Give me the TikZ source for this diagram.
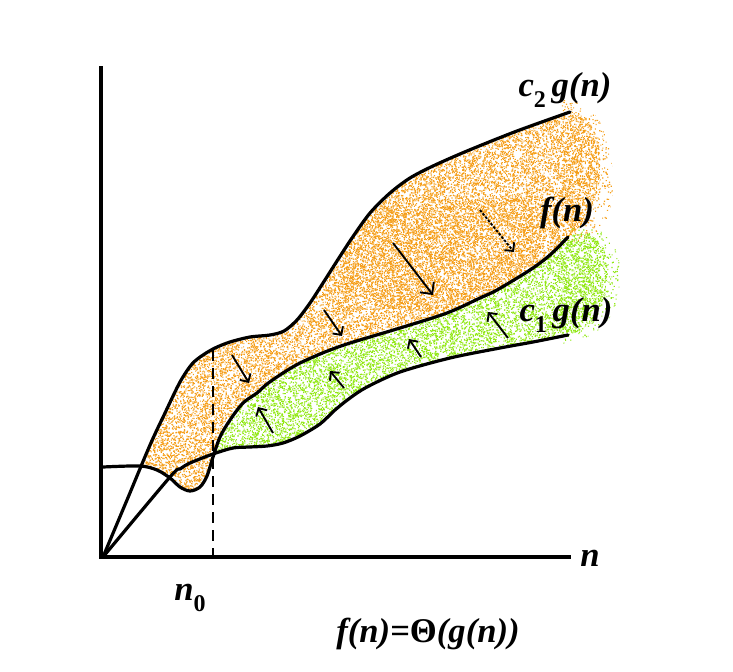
\documentclass[tikz,border=0pt]{standalone}
\usepackage{fontspec}
\setmainfont{Liberation Serif}
\usetikzlibrary{arrows.meta}
\makeatletter
\newcount\stp@cnt \newcount\stp@tot
\newdimen\stp@x \newdimen\stp@y
\def\stp@one#1#2#3#4{%
  \pgfmathrnd \stp@x=\pgfmathresult pt \stp@x=#3\stp@x \advance\stp@x by #1pt \stp@x=0.75\stp@x
  \pgfmathrnd \stp@y=\pgfmathresult pt \stp@y=#4\stp@y \advance\stp@y by #2pt \stp@y=-0.75\stp@y
  \pgfpathrectangle{\pgfqpoint{\stp@x}{\stp@y}}{\pgfqpoint{0.85pt}{0.85pt}}%
  \advance\stp@cnt by 1 \advance\stp@tot by -1
  \ifnum\stp@tot>0
    \ifnum\stp@cnt>249 \pgfusepath{fill}\stp@cnt=0 \fi
    \def\stp@next{\stp@one{#1}{#2}{#3}{#4}}%
  \else
    \pgfusepath{fill}%
    \let\stp@next\relax
  \fi
  \stp@next}
% \stipplebox{x0}{y0}{width}{height}{number of dots}, in pixel units
\newcommand{\stipplebox}[5]{\stp@cnt=0 \stp@tot=#5 \stp@one{#1}{#2}{#3}{#4}}
\makeatother
\definecolor{dotorange}{RGB}{245,158,25}
\definecolor{dotgreen}{RGB}{145,232,20}
\newcommand{\mysub}[1]{\raisebox{-0.33em}{\fontsize{18}{20}\selectfont\upshape #1}}
\tikzset{
  curve/.style={line width=2.4pt, line join=round, line cap=round},
  axisline/.style={line width=2.4pt},
  arrbig/.style={line width=1.4pt, -{Straight Barb[length=6.5pt,width=13pt]}},
  arrsmall/.style={line width=1.4pt, -{Straight Barb[length=4.6pt,width=9.4pt]}},
  lbl/.style={font=\fontsize{26}{30}\selectfont\bfseries\itshape, inner sep=0pt},
}
\begin{document}
\begin{tikzpicture}[x=0.75pt,y=-0.75pt]
\useasboundingbox (0,0) rectangle (733,672);
\pgfmathsetseed{4242}
% sparse fringes at the right ends
\begin{scope}
  \clip (560,100) .. controls (602,96) and (618,150) .. (612,200) .. controls (608,234) and (585,242) .. (560,244) -- cycle;
  \pgfsetfillcolor{dotorange}
  \stipplebox{560}{96}{60}{150}{700}
\end{scope}
\begin{scope}
  \clip (560,230) .. controls (602,218) and (622,240) .. (620,280) .. controls (618,322) and (596,340) .. (560,344) -- cycle;
  \pgfsetfillcolor{dotgreen}
  \stipplebox{560}{216}{62}{130}{600}
\end{scope}
% orange region between c2 g(n) and f(n)
\begin{scope}
  \clip plot[smooth, tension=0.5] coordinates {(140,467) (150,445) (165,413) (180,382) (192,364) (203,355) (215,348) (230,342) (250,337) (270,335) (284,331) (297,320) (310,303) (323,283) (337,261) (352,238) (370,213) (390,193) (410,178) (433,166) (467,151) (517,131) (570,112)}
  .. controls (592,112) and (602,140) .. (600,175) .. controls (598,205) and (585,225) .. (568,237)
  -- plot[smooth, tension=0.5] coordinates {(568,237) (550,255) (530,270) (497,290) (480,298) (447,313) (400,328) (350,343) (325,352) (300,363) (283,373) (267,384) (257,393) (243,403) (230,420) (220,437) (213,457) (207,476) (200,487) (190,491) (180,487) (170,478) (157,470) (140,467)}
  -- cycle;
  \pgfsetfillcolor{dotorange}
  \stipplebox{138}{358}{52}{137}{2200}
  \stipplebox{190}{334}{70}{162}{3500}
  \stipplebox{260}{266}{70}{128}{2800}
  \stipplebox{330}{168}{90}{186}{5200}
  \stipplebox{420}{136}{80}{194}{4800}
  \stipplebox{500}{108}{70}{184}{4000}
  \stipplebox{570}{108}{35}{132}{1400}
  % denser core
  \stipplebox{340}{200}{200}{110}{3000}
\end{scope}
% green region between f(n) and c1 g(n)
\begin{scope}
  \clip plot[smooth, tension=0.5] coordinates {(213,457) (220,437) (230,420) (243,403) (257,393) (267,384) (283,373) (300,363) (325,352) (350,343) (400,328) (447,313) (480,298) (497,290) (530,270) (550,255) (568,237)}
  .. controls (590,228) and (608,240) .. (608,270) .. controls (608,305) and (590,330) .. (568,335)
  -- plot[smooth, tension=0.5] coordinates {(568,335) (533,342) (500,348) (450,358) (400,372) (367,387) (350,398) (335,410) (320,424) (300,436) (283,443) (267,446) (250,447) (233,448) (213,454)}
  -- cycle;
  \pgfsetfillcolor{dotgreen}
  \stipplebox{212}{358}{88}{101}{2600}
  \stipplebox{300}{318}{120}{121}{4300}
  \stipplebox{420}{276}{100}{95}{2800}
  \stipplebox{520}{224}{90}{125}{3300}
\end{scope}
% axes
\coordinate (O) at (101,557);
\coordinate (ytop) at (101,66);
\coordinate (xend) at (571,557);
\draw[axisline] (ytop) -- (O) -- (xend);
% n0 dashed line
\coordinate (n0top) at (213,350);
\coordinate (n0bot) at (213,557);
\draw[line width=2pt, dash pattern=on 8pt off 5.5pt] (n0top) -- (n0bot);
% curves
\draw[curve] plot[smooth, tension=0.5] coordinates {(103,557) (127,500) (150,445) (165,413) (180,382) (192,364) (203,355) (215,348) (230,342) (250,337) (270,335) (284,331) (297,320) (310,303) (323,283) (337,261) (352,238) (370,213) (390,193) (410,178) (433,166) (467,151) (517,131) (570,112)};
\draw[curve] plot[smooth, tension=0.5] coordinates {(103,467) (140,466) (157,470) (170,478) (180,487) (190,491) (200,487) (207,476) (213,457) (220,437) (230,420) (243,403) (257,393) (267,384) (283,373) (300,363) (325,352) (350,343) (400,328) (447,313) (480,298) (497,290) (530,270) (550,255) (568,237)};
\draw[curve] plot[smooth, tension=0.5] coordinates {(103,557) (170,477) (180,469) (190,463) (213,454) (233,448) (250,447) (267,446) (283,443) (300,436) (320,424) (335,410) (350,398) (367,387) (400,372) (450,358) (500,348) (533,342) (568,335)};
% arrows
\coordinate (d1a) at (232,355); \coordinate (d1b) at (249,383);
\coordinate (d2a) at (324,310); \coordinate (d2b) at (342,336);
\coordinate (d3a) at (393,243); \coordinate (d3b) at (433,295);
\coordinate (d4a) at (480,210); \coordinate (d4b) at (514,252);
\coordinate (u1a) at (273,433); \coordinate (u1b) at (258,407);
\coordinate (u2a) at (344,388); \coordinate (u2b) at (330,371);
\coordinate (u3a) at (421,357); \coordinate (u3b) at (409,339);
\coordinate (u4a) at (508,338); \coordinate (u4b) at (488,312);
\draw[arrsmall] (d1a) -- (d1b);
\draw[arrsmall] (d2a) -- (d2b);
\draw[arrbig] (d3a) -- (d3b);
\draw[arrsmall, dash pattern=on 2pt off 1.2pt] (d4a) -- (d4b);
\draw[arrsmall] (u1a) -- (u1b);
\draw[arrsmall] (u2a) -- (u2b);
\draw[arrsmall] (u3a) -- (u3b);
\draw[arrsmall] (u4a) -- (u4b);
% labels
\node[lbl] (lc2) at (565,90) {c\mysub{2}\,g(n)};
\node[lbl] (lf) at (567,213) {f(n)};
\node[lbl] (lc1) at (566,315) {c\mysub{1}\,g(n)};
\node[lbl] (ln) at (590,558) {n};
\node[lbl] (ln0) at (190,598) {n\mysub{0}};
\node[lbl] (ltheta) at (428,634) {f(n)=\textup{Θ}(g(n))};
\end{tikzpicture}
\end{document}
